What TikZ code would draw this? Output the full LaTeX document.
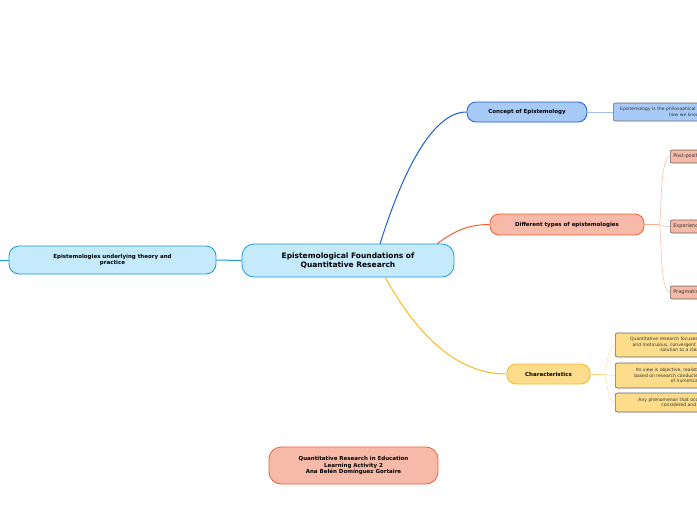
\documentclass[tikz,border=0pt]{standalone}
\usepackage{fontspec}
\setmainfont{DejaVu Sans}
\begin{document}
\begin{tikzpicture}[x=1pt,y=-1pt,
 main/.style={rounded corners=9pt,draw,line width=0.8pt,align=center,font=\bfseries\fontsize{5.5}{6.5}\selectfont,inner sep=0pt},
 leaf/.style={rounded corners=2pt,draw=gray!80!black,line width=0.6pt,align=center,font=\fontsize{4.5}{5.5}\selectfont,inner ysep=0pt,inner xsep=3pt,text=black!80}]
\path[use as bounding box] (0,0) rectangle (697,520);
\begin{scope}
\clip (0,0) rectangle (697,520);
\definecolor{cen}{HTML}{C4EAFC}\definecolor{cenb}{HTML}{1A9AD6}
\definecolor{bl}{HTML}{A8CAF8}\definecolor{blb}{HTML}{1A5FD0}
\definecolor{or}{HTML}{F8BAA8}\definecolor{orb}{HTML}{F06030}
\definecolor{ye}{HTML}{FDDC8C}\definecolor{yeb}{HTML}{F8B820}
\node[main,fill=cen,draw=cenb,minimum width=212pt,minimum height=33pt,rounded corners=12pt,font=\bfseries\fontsize{7.5}{9}\selectfont] (c) at (348,260.5) {Epistemological Foundations of\\Quantitative Research};
\node[main,fill=cen,draw=cenb,minimum width=207pt,minimum height=28pt,rounded corners=10pt] (l) at (112.5,260) {Epistemologies underlying theory and\\practice};
\coordinate (le) at (0,260);
\draw[cenb,line width=1pt] (c.west) -- (l.east);
\draw[cenb,line width=1pt] (l.west) -- (le);
\node[main,fill=bl,draw=blb,minimum width=120pt,minimum height=20pt] (k) at (527,112) {Concept of Epistemology};
\node[leaf,fill=bl,anchor=west,minimum height=18pt,text width=170pt] (kd) at (613,112) {Epistemology is the philosophical study of the nature of knowledge and\\how we know what we know};
\draw[blb,line width=1pt] (380,244) .. controls (400,180) and (430,112) .. (k.west);
\draw[blb!40,line width=0.8pt] (k.east) -- (kd.west);
\node[main,fill=or,draw=orb,minimum width=154pt,minimum height=21pt] (d) at (567,224.5) {Different types of epistemologies};
\node[leaf,fill=or,anchor=west,minimum height=13pt,text width=80pt,align=left,font=\fontsize{5}{6}\selectfont] (d1) at (670,156.5) {Post-positivism};
\node[leaf,fill=or,anchor=west,minimum height=13pt,text width=80pt,align=left,font=\fontsize{5}{6}\selectfont] (d2) at (670,226.5) {Experienceism};
\node[leaf,fill=or,anchor=west,minimum height=13pt,text width=80pt,align=left,font=\fontsize{5}{6}\selectfont] (d3) at (670,292.5) {Pragmatism};
\draw[orb,line width=1pt] (437,244) .. controls (455,230) and (470,224.5) .. (d.west);
\coordinate (dj) at (659,224.5);
\draw[orb!50,line width=0.7pt] (d.east) -- (dj);
\foreach \t in {d1,d2,d3} \draw[orb!40,line width=0.6pt] (dj) .. controls (662,224.5) and ([xshift=-11pt]\t.west) .. (\t.west);
\node[main,fill=ye,draw=yeb,minimum width=83pt,minimum height=20pt] (h) at (548.5,374) {Characteristics};
\node[leaf,fill=ye,anchor=west,minimum height=24pt,text width=145pt] (h1) at (615,345) {Quantitative research focuses on a structured, logical\\and meticulous, convergent process that leads to a\\solution to a clear problem};
\node[leaf,fill=ye,anchor=west,minimum height=25pt,text width=145pt] (h2) at (615,375.5) {Its view is objective, realistic and deductive, it is\\based on research conducted with the application\\of numerical data};
\node[leaf,fill=ye,anchor=west,minimum height=19pt,text width=145pt] (h3) at (615,402.5) {Any phenomenon that occurs in reality can be\\considered and measured};
\draw[yeb,line width=1pt] (385,277) .. controls (420,340) and (460,374) .. (h.west);
\coordinate (hj) at (603,374);
\draw[yeb!60,line width=0.7pt] (h.east) -- (hj);
\foreach \t in {h1,h2,h3} \draw[yeb!40,line width=0.6pt] (hj) .. controls (608,374) and ([xshift=-9pt]\t.west) .. (\t.west);
\node[main,fill=or,draw=orb,minimum width=169pt,minimum height=37pt,rounded corners=12pt] (b) at (353.5,465.5) {Quantitative Research in Education\\Learning Activity 2\\Ana Belén Domínguez Gortaire};
\end{scope}
\end{tikzpicture}
\end{document}
